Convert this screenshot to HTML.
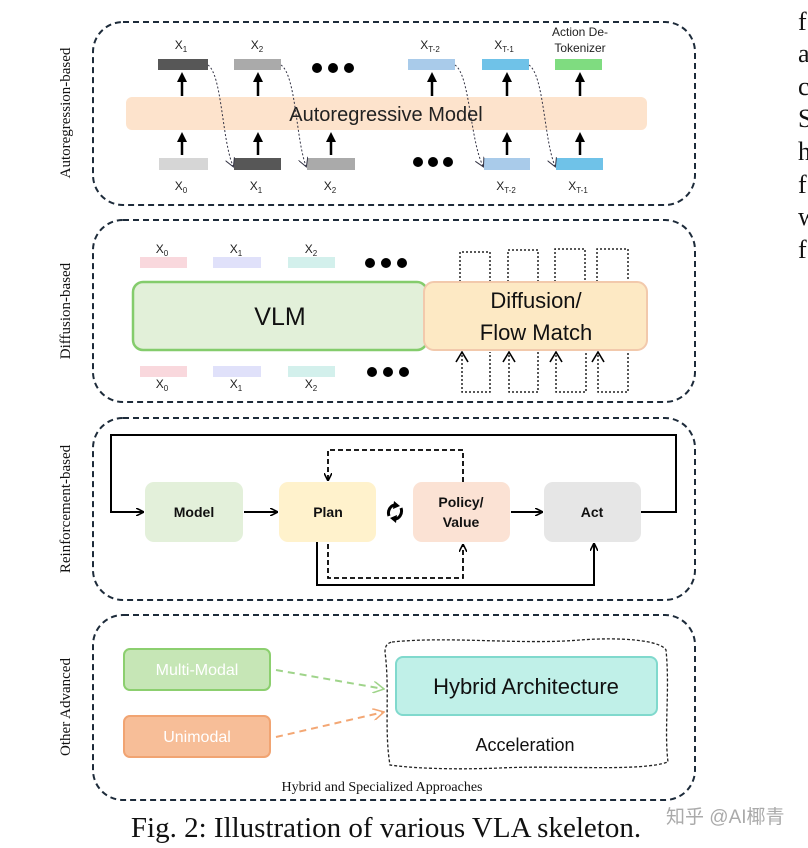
<!DOCTYPE html>
<html><head><meta charset="utf-8"><style>
html,body{margin:0;padding:0;background:#fff;}
svg{display:block;}
.s{font-family:"Liberation Sans",sans-serif;}
.r{font-family:"Liberation Serif",serif;}
</style></head><body>
<svg width="808" height="848" viewBox="0 0 808 848" xmlns="http://www.w3.org/2000/svg">
<defs>
<marker id="ah" markerWidth="8" markerHeight="8" refX="7" refY="4" orient="auto" markerUnits="userSpaceOnUse"><path d="M0,0 L8,4 L0,8" fill="none" stroke="#000" stroke-width="1.6"/></marker>
<marker id="af" markerWidth="10" markerHeight="10" refX="5" refY="5" orient="auto" markerUnits="userSpaceOnUse"><path d="M0,0 L10,5 L0,10 Z" fill="#000"/></marker>
<marker id="ag" markerWidth="12" markerHeight="12" refX="11" refY="6" orient="auto" markerUnits="userSpaceOnUse"><path d="M0,0 L11,6 L0,12" fill="none" stroke="#9fd48a" stroke-width="1.6"/></marker>
<marker id="ao" markerWidth="12" markerHeight="12" refX="11" refY="6" orient="auto" markerUnits="userSpaceOnUse"><path d="M0,0 L11,6 L0,12" fill="none" stroke="#f3a774" stroke-width="1.6"/></marker>
<marker id="ad" markerWidth="10" markerHeight="10" refX="8" refY="5" orient="auto" markerUnits="userSpaceOnUse"><path d="M0,0 L9,5 L0,10" fill="none" stroke="#334" stroke-width="1"/></marker>
</defs>

<g fill="none" stroke="#1d2b3a" stroke-width="2" stroke-dasharray="6,4">
<rect x="93" y="22" width="602" height="183" rx="30"/>
<rect x="93" y="220" width="602" height="182" rx="30"/>
<rect x="93" y="418" width="602" height="182" rx="30"/>
<rect x="93" y="615" width="602" height="185" rx="30"/>
</g>
<g class="r" font-size="15" fill="#111" text-anchor="middle">
<text transform="translate(70,113) rotate(-90)">Autoregression-based</text>
<text transform="translate(70,311) rotate(-90)">Diffusion-based</text>
<text transform="translate(70,509) rotate(-90)">Reinforcement-based</text>
<text transform="translate(70,707) rotate(-90)">Other Advanced</text>
</g>

<rect x="126" y="97" width="521" height="33" rx="6" fill="#fde3cc"/>
<text class="s" x="386" y="121" font-size="20" text-anchor="middle" fill="#222">Autoregressive Model</text>
<rect x="158" y="59" width="50" height="11" fill="#575757"/>
<rect x="234" y="59" width="47" height="11" fill="#aaaaaa"/>
<rect x="408" y="59" width="47" height="11" fill="#a9cbea"/>
<rect x="482" y="59" width="47" height="11" fill="#6fc2e8"/>
<rect x="555" y="59" width="47" height="11" fill="#7fdc80"/>
<g fill="#000"><circle cx="317" cy="68" r="5"/><circle cx="333" cy="68" r="5"/><circle cx="349" cy="68" r="5"/>
<circle cx="418" cy="162" r="5"/><circle cx="433" cy="162" r="5"/><circle cx="448" cy="162" r="5"/></g>
<rect x="159" y="158" width="49" height="12" fill="#d6d6d6"/>
<rect x="234" y="158" width="47" height="12" fill="#575757"/>
<rect x="307" y="158" width="48" height="12" fill="#aaaaaa"/>
<rect x="484" y="158" width="46" height="12" fill="#a9cbea"/>
<rect x="556" y="158" width="47" height="12" fill="#6fc2e8"/>
<g stroke="#000" stroke-width="2.5" marker-end="url(#af)">
<line x1="182" y1="96" x2="182" y2="77"/><line x1="258" y1="96" x2="258" y2="77"/><line x1="432" y1="96" x2="432" y2="77"/><line x1="507" y1="96" x2="507" y2="77"/><line x1="580" y1="96" x2="580" y2="77"/>
<line x1="182" y1="155" x2="182" y2="137"/><line x1="258" y1="155" x2="258" y2="137"/><line x1="331" y1="155" x2="331" y2="137"/><line x1="507" y1="155" x2="507" y2="137"/><line x1="580" y1="155" x2="580" y2="137"/>
</g>
<g fill="none" stroke="#334" stroke-width="1" stroke-dasharray="2,2" marker-end="url(#ad)">
<path d="M208,65 C222,75 222,140 233,166"/>
<path d="M281,65 C296,75 296,140 306,166"/>
<path d="M455,65 C470,75 470,140 483,166"/>
<path d="M529,65 C544,75 544,140 555,166"/>
</g>
<g class="s" font-size="12" fill="#222" text-anchor="middle">
<text x="181" y="49">X<tspan font-size="8" dy="3">1</tspan></text>
<text x="257" y="49">X<tspan font-size="8" dy="3">2</tspan></text>
<text x="430" y="49">X<tspan font-size="8" dy="3">T-2</tspan></text>
<text x="504" y="49">X<tspan font-size="8" dy="3">T-1</tspan></text>
<text x="580" y="36">Action De-</text><text x="580" y="52">Tokenizer</text>
<text x="181" y="190">X<tspan font-size="8" dy="3">0</tspan></text>
<text x="256" y="190">X<tspan font-size="8" dy="3">1</tspan></text>
<text x="330" y="190">X<tspan font-size="8" dy="3">2</tspan></text>
<text x="506" y="190">X<tspan font-size="8" dy="3">T-2</tspan></text>
<text x="578" y="190">X<tspan font-size="8" dy="3">T-1</tspan></text>
</g>

<rect x="140" y="257" width="47" height="11" fill="#f9d8dd"/>
<rect x="213" y="257" width="48" height="11" fill="#e0e1fa"/>
<rect x="288" y="257" width="47" height="11" fill="#d3f0ec"/>
<rect x="140" y="366" width="47" height="11" fill="#f9d8dd"/>
<rect x="213" y="366" width="48" height="11" fill="#e0e1fa"/>
<rect x="288" y="366" width="47" height="11" fill="#d3f0ec"/>
<g fill="#000"><circle cx="370" cy="263" r="5"/><circle cx="386" cy="263" r="5"/><circle cx="402" cy="263" r="5"/>
<circle cx="372" cy="372" r="5"/><circle cx="388" cy="372" r="5"/><circle cx="404" cy="372" r="5"/></g>
<g class="s" font-size="12" fill="#222" text-anchor="middle">
<text x="162" y="253">X<tspan font-size="8" dy="3">0</tspan></text>
<text x="236" y="253">X<tspan font-size="8" dy="3">1</tspan></text>
<text x="311" y="253">X<tspan font-size="8" dy="3">2</tspan></text>
<text x="162" y="388">X<tspan font-size="8" dy="3">0</tspan></text>
<text x="236" y="388">X<tspan font-size="8" dy="3">1</tspan></text>
<text x="311" y="388">X<tspan font-size="8" dy="3">2</tspan></text>
</g>
<g fill="none" stroke="#222" stroke-width="1.5" stroke-dasharray="2,2">
<path d="M460,282 V252 H490 V282"/><path d="M508,282 V250 H538 V282"/><path d="M555,282 V249 H585 V282"/><path d="M597,282 V249 H628 V282"/>
<path d="M462,355 V392 H490 V352"/><path d="M509,355 V392 H538 V352"/><path d="M556,355 V392 H586 V352"/><path d="M598,355 V392 H628 V352"/>
</g>
<g fill="none" stroke="#000" stroke-width="1.6">
<path d="M456,362 L462,352 L468,362"/><path d="M503,362 L509,352 L515,362"/><path d="M550,362 L556,352 L562,362"/><path d="M592,362 L598,352 L604,362"/>
</g>
<rect x="133" y="282" width="294" height="68" rx="10" fill="#e2f0d9" stroke="#84cc6c" stroke-width="2.5"/>
<text class="s" x="280" y="325" font-size="25" text-anchor="middle" fill="#111">VLM</text>
<rect x="424" y="282" width="223" height="68" rx="10" fill="#fde9c4" stroke="#f2c9ac" stroke-width="2"/>
<text class="s" x="536" y="308" font-size="22" text-anchor="middle" fill="#111">Diffusion/</text>
<text class="s" x="536" y="340" font-size="22" text-anchor="middle" fill="#111">Flow Match</text>

<g fill="none" stroke="#000" stroke-width="2">
<path d="M641,512 H676 V435 H111 V512 H143" marker-end="url(#ah)"/>
<line x1="244" y1="512" x2="277" y2="512" marker-end="url(#ah)"/>
<line x1="511" y1="512" x2="542" y2="512" marker-end="url(#ah)"/>
<path d="M317,542 V585 H594 V544" marker-end="url(#ah)"/>
</g>
<g fill="none" stroke="#000" stroke-width="1.8" stroke-dasharray="5,3">
<path d="M463,482 V450 H328 V480" marker-end="url(#ah)"/>
<path d="M328,544 V578 H463 V545" marker-end="url(#ah)"/>
</g>
<rect x="145" y="482" width="98" height="60" rx="9" fill="#e3f0da"/>
<rect x="279" y="482" width="97" height="60" rx="9" fill="#fff2cc"/>
<rect x="413" y="482" width="97" height="60" rx="9" fill="#fbe2d4"/>
<rect x="544" y="482" width="97" height="60" rx="9" fill="#e6e6e6"/>
<g class="s" font-size="14" font-weight="bold" fill="#111" text-anchor="middle">
<text x="194" y="517">Model</text><text x="328" y="517">Plan</text>
<text x="461" y="507">Policy/</text><text x="461" y="527">Value</text>
<text x="592" y="517">Act</text>
</g>
<g fill="none" stroke="#000" stroke-width="3">
<path d="M389,516 A7,8 0 0 1 396,505"/><path d="M401,508 A7,8 0 0 1 394,519"/>
</g>
<path d="M394,501 L400,506 L393,509Z M396,523 L390,518 L397,515Z" fill="#000"/>

<path d="M392,642 C450,636 520,645 580,640 C620,637 660,640 666,650 C670,690 664,730 668,762 C640,772 560,765 500,768 C450,770 410,768 390,765 C384,730 390,690 385,652 C385,645 388,643 392,642Z" fill="none" stroke="#222" stroke-width="1.3" stroke-dasharray="3,2"/>
<rect x="124" y="649" width="146" height="41" rx="6" fill="#c6e6b6" stroke="#8ccf6f" stroke-width="2"/>
<text class="s" x="197" y="675" font-size="16" text-anchor="middle" fill="#fff">Multi-Modal</text>
<rect x="124" y="716" width="146" height="41" rx="6" fill="#f7be98" stroke="#f1a472" stroke-width="2"/>
<text class="s" x="197" y="742" font-size="16" text-anchor="middle" fill="#fff">Unimodal</text>
<line x1="276" y1="670" x2="384" y2="689" stroke="#9fd48a" stroke-width="2" stroke-dasharray="7,5" marker-end="url(#ag)"/>
<line x1="276" y1="737" x2="384" y2="712" stroke="#f3a774" stroke-width="2" stroke-dasharray="7,5" marker-end="url(#ao)"/>
<rect x="396" y="657" width="261" height="58" rx="7" fill="#c0f0e8" stroke="#80d9cd" stroke-width="2"/>
<text class="s" x="526" y="694" font-size="22" text-anchor="middle" fill="#111">Hybrid Architecture</text>
<text class="s" x="525" y="751" font-size="18" text-anchor="middle" fill="#111">Acceleration</text>
<text class="r" x="382" y="791" font-size="14" text-anchor="middle" fill="#111">Hybrid and Specialized Approaches</text>

<text class="r" x="386" y="837" font-size="29" text-anchor="middle" fill="#111">Fig. 2: Illustration of various VLA skeleton.</text>
<text x="666" y="823" font-family="Liberation Sans,'Noto Sans CJK SC',sans-serif" font-size="19" fill="#aaa">知乎 @AI椰青</text>

<g class="r" font-size="26" fill="#111">
<text x="798" y="30">f</text><text x="798" y="62">a</text><text x="798" y="95">c</text><text x="798" y="127">S</text>
<text x="798" y="160">h</text><text x="798" y="193">f</text><text x="798" y="225">w</text><text x="798" y="258">f</text>
</g>
</svg>
</body></html>
